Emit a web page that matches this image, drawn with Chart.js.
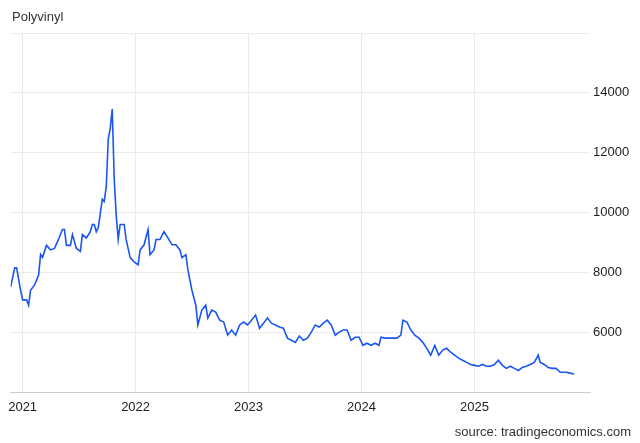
<!DOCTYPE html>
<html><head><meta charset="utf-8">
<script src="https://cdn.jsdelivr.net/npm/chart.js@4"></script>
<style>
body{margin:0;background:#fff;font-family:Arial,"Liberation Sans",sans-serif;}
#wrap{position:relative;width:640px;height:443px;}
#t{position:absolute;left:12px;top:9px;font-size:13px;color:#333;}
#s{position:absolute;right:9px;top:424px;font-size:13px;color:#333;}
</style></head><body>
<div id="wrap"><canvas id="c" width="640" height="443"></canvas>
<div id="t">Polyvinyl</div><div id="s">source: tradingeconomics.com</div></div>
<script>
const years=[2020.894,2020.930,2020.947,2020.982,2021.000,2021.035,2021.053,2021.070,2021.106,2021.141,2021.159,2021.176,2021.211,2021.247,2021.282,2021.317,2021.352,2021.370,2021.388,2021.423,2021.441,2021.476,2021.511,2021.529,2021.564,2021.599,2021.617,2021.634,2021.652,2021.670,2021.705,2021.722,2021.740,2021.758,2021.775,2021.793,2021.811,2021.828,2021.846,2021.863,2021.899,2021.916,2021.952,2021.987,2022.022,2022.040,2022.075,2022.110,2022.128,2022.163,2022.181,2022.216,2022.251,2022.286,2022.322,2022.357,2022.392,2022.410,2022.445,2022.463,2022.498,2022.533,2022.551,2022.586,2022.621,2022.639,2022.674,2022.709,2022.744,2022.780,2022.815,2022.850,2022.885,2022.921,2022.956,2022.991,2023.026,2023.062,2023.097,2023.132,2023.167,2023.203,2023.238,2023.273,2023.308,2023.344,2023.379,2023.414,2023.449,2023.485,2023.520,2023.555,2023.590,2023.626,2023.661,2023.696,2023.731,2023.767,2023.802,2023.837,2023.872,2023.907,2023.943,2023.978,2024.013,2024.048,2024.084,2024.119,2024.154,2024.172,2024.207,2024.260,2024.313,2024.348,2024.366,2024.401,2024.436,2024.471,2024.507,2024.542,2024.577,2024.612,2024.648,2024.683,2024.718,2024.753,2024.789,2024.824,2024.859,2024.894,2024.930,2024.965,2025.000,2025.035,2025.070,2025.106,2025.141,2025.176,2025.211,2025.247,2025.282,2025.317,2025.352,2025.388,2025.423,2025.458,2025.493,2025.529,2025.564,2025.581,2025.617,2025.652,2025.687,2025.722,2025.758,2025.811,2025.846,2025.881];
const values=[7510,8150,8150,7400,7080,7080,6900,7400,7580,7900,8600,8500,8900,8750,8800,9100,9430,9430,8900,8900,9260,8800,8700,9260,9150,9360,9600,9600,9360,9500,10440,10370,10850,12450,12800,13460,11100,9930,9100,9600,9600,9100,8490,8350,8250,8750,8920,9430,8590,8750,9100,9100,9360,9150,8920,8920,8750,8490,8590,8080,7410,6900,6240,6740,6900,6470,6740,6670,6400,6340,5900,6070,5900,6240,6340,6240,6400,6570,6130,6300,6470,6300,6240,6170,6130,5800,5730,5660,5870,5730,5800,6000,6240,6170,6300,6400,6240,5900,6000,6070,6070,5730,5830,5830,5560,5630,5560,5630,5560,5830,5800,5800,5800,5900,6400,6340,6070,5900,5800,5660,5460,5230,5560,5230,5400,5460,5330,5230,5130,5060,4990,4920,4890,4860,4920,4860,4860,4920,5060,4890,4790,4860,4790,4720,4820,4860,4920,4990,5230,4990,4920,4820,4790,4790,4660,4660,4630,4600];
const yearTicks=[2021,2022,2023,2024,2025];
const yTicks=[4000,6000,8000,10000,12000,14000,16000];
const yLabels=[6000,8000,10000,12000,14000];
new Chart(document.getElementById('c'),{type:'line',
data:{datasets:[{data:years.map((x,i)=>({x,y:values[i]})),borderColor:'#1a56f0',borderWidth:1.6,pointRadius:0,tension:0}]},
options:{responsive:false,animation:false,layout:{padding:{left:8,top:33,right:0,bottom:0}},
plugins:{legend:{display:false},tooltip:{enabled:false}},
scales:{
x:{type:'linear',min:2020.894,max:2026.022,afterBuildTicks:s=>{s.ticks=yearTicks.map(v=>({value:v}));},
 afterFit:s=>{s.height=51;},
 grid:{color:'#ebebeb',drawTicks:false},border:{color:'#ccc'},
 ticks:{padding:8,color:'#222',font:{size:13,family:'Arial'},callback:v=>String(v)}},
y:{position:'right',min:4000,max:16000,afterBuildTicks:s=>{s.ticks=yTicks.map(v=>({value:v}));},
 afterFit:s=>{s.width=50;},
 grid:{color:'#ebebeb',drawTicks:false},border:{display:false},
 ticks:{padding:3,color:'#222',font:{size:13,family:'Arial'},callback:v=>yLabels.includes(v)?String(v):''}}
}}});
</script></body></html>
